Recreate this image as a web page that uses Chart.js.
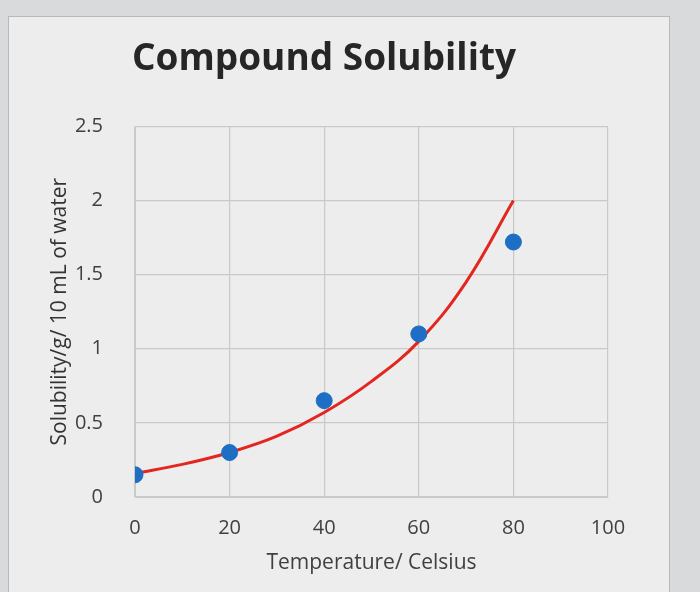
<!DOCTYPE html>
<html>
<head>
<meta charset="utf-8">
<script src="https://cdn.jsdelivr.net/npm/chart.js@4/dist/chart.umd.min.js"></script>
<style>
  html, body { margin: 0; padding: 0; background: #d9dadb; }
  #wrap { position: absolute; left: 0; top: 0; width: 700px; height: 592px; }
  #panel { position: absolute; left: 8px; top: 16px; width: 660px; height: 576px; background: #ededed; border-left: 1px solid #b9b9b9; border-top: 1px solid #b9b9b9; border-right: 1px solid #b9b9b9; }
  canvas { position: absolute; left: 0; top: 0; }
</style>
</head>
<body>
<div id="wrap">
  <div id="panel"></div>
  <canvas id="c" width="700" height="592"></canvas>
</div>
<script>
// Measured data points
const temperatures = [0, 20, 40, 60, 80];
const solubility = [0.15, 0.30, 0.65, 1.10, 1.72];

// Trendline
const trendTemps = [0, 10, 20, 30, 40, 50, 60, 70, 80];
const trendValues = [0.16, 0.22, 0.30, 0.41, 0.57, 0.78, 1.05, 1.45, 2.00];

const xTicks = [0, 20, 40, 60, 80, 100];
const yTicks = [0, 0.5, 1, 1.5, 2, 2.5];

const chartTitle = 'Compound Solubility';
const xTitle = 'Temperature/ Celsius';
const yTitle = 'Solubility/g/ 10 mL of water';

const FONT = "'Open Sans', 'Noto Sans', sans-serif";

new Chart(document.getElementById('c'), {
  type: 'scatter',
  data: {
    datasets: [
      {
        label: 'Trend',
        type: 'line',
        data: trendTemps.map((x, i) => ({ x: x, y: trendValues[i] })),
        borderColor: '#e3261f',
        borderWidth: 3,
        pointRadius: 0,
        tension: 0.4,
        fill: false,
        order: 2
      },
      {
        label: 'Solubility',
        data: temperatures.map((x, i) => ({ x: x, y: solubility[i] })),
        backgroundColor: '#1e6fc4',
        borderColor: '#1e6fc4',
        pointRadius: 8,
        order: 1
      }
    ]
  },
  options: {
    responsive: false,
    animation: false,
    layout: { padding: { left: 40, right: 92, top: 28, bottom: 15 } },
    plugins: {
      legend: { display: false },
      tooltip: { enabled: false },
      title: {
        display: true,
        text: chartTitle,
        color: '#262626',
        font: { family: FONT, size: 37, weight: 'bold' },
        padding: { top: 9, bottom: 45 },
        align: 'center'
      }
    },
    scales: {
      x: {
        type: 'linear',
        min: 0, max: 100,
        afterBuildTicks: (s) => { s.ticks = xTicks.map(v => ({ value: v })); },
        afterFit: (s) => { s.height = 80; },
        grid: { color: '#c9c9c9', lineWidth: 1.2, drawTicks: false },
        border: { color: '#c9c9c9' },
        ticks: { color: '#404040', font: { family: FONT, size: 20 }, padding: 19 },
        title: { display: true, text: xTitle, color: '#404040', font: { family: FONT, size: 21 }, padding: { top: 0, bottom: 1 } }
      },
      y: {
        type: 'linear',
        min: 0, max: 2.5,
        afterBuildTicks: (s) => { s.ticks = yTicks.map(v => ({ value: v })); },
        afterFit: (s) => { s.width = 95; },
        grid: { color: '#c9c9c9', lineWidth: 1.2, drawTicks: false },
        border: { color: '#c9c9c9' },
        ticks: {
          color: '#404040', font: { family: FONT, size: 20 }, padding: 32,
          callback: (v) => String(v)
        },
        title: { display: true, text: yTitle, color: '#333333', font: { family: FONT, size: 21 }, padding: { top: 7, bottom: 0 } }
      }
    }
  }
});
</script>
</body>
</html>
